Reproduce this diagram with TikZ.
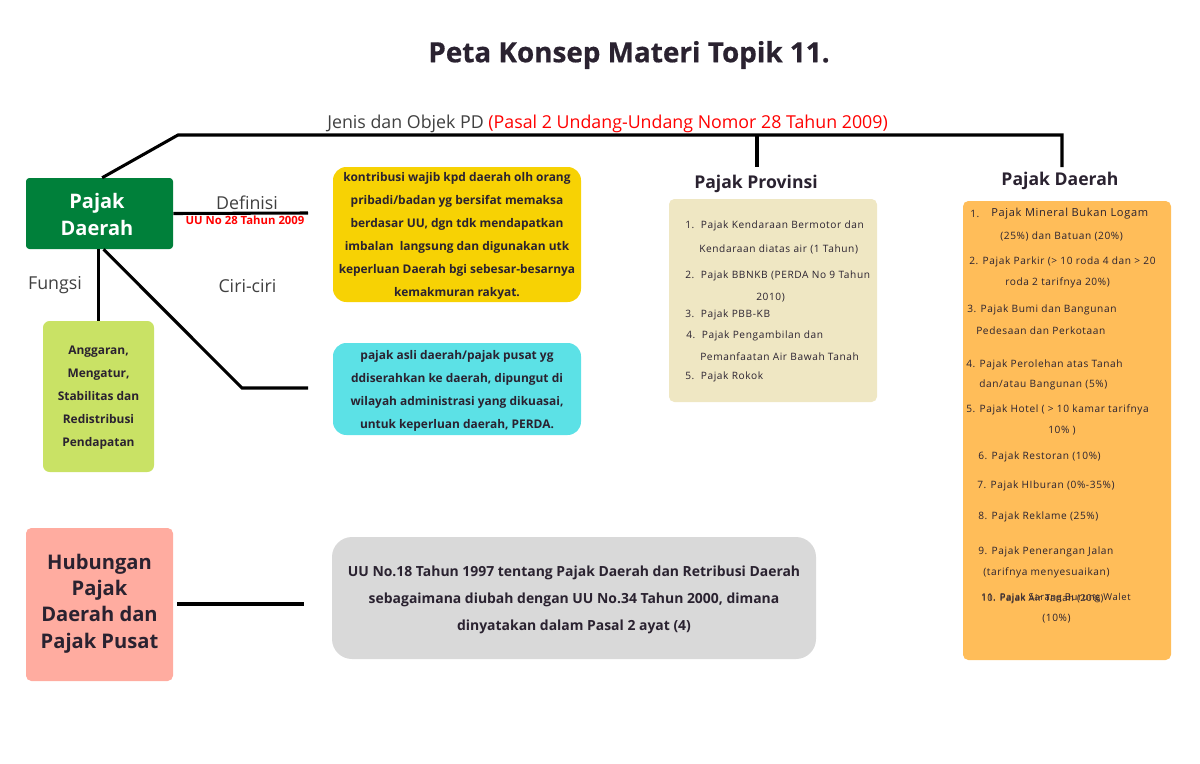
\documentclass[tikz,border=0pt]{standalone}
\usepackage{fontspec}
\setmainfont{Open Sans}
\newfontfamily\listfont[LetterSpace=6]{Open Sans}
\newfontfamily\titlefont[BoldFeatures={FakeBold=.6}]{Open Sans}
\usetikzlibrary{positioning}
\definecolor{pajakgreen}{HTML}{00803A}
\definecolor{kontribusiyellow}{HTML}{F7D204}
\definecolor{asalcyan}{HTML}{5CE1E6}
\definecolor{fungsilime}{HTML}{C9E265}
\definecolor{provcream}{HTML}{EFE7C3}
\definecolor{daerahorange}{HTML}{FFBD59}
\definecolor{hubsalmon}{HTML}{FFACA0}
\definecolor{uugrey}{HTML}{D9D9D9}
\definecolor{inkdark}{HTML}{2A2230}
\tikzset{
  conn/.style={line width=2.3pt},
  box/.style={rounded corners=4pt,inner sep=0pt},
  isi/.style={align=center,inner sep=0pt,text=inkdark,font=\bfseries\fontsize{8.95}{17.25}\selectfont},
  caption/.style={font=\fontsize{13.35}{16}\selectfont,text=black!75,inner sep=0pt},
  head/.style={font=\bfseries\fontsize{13.2}{15}\selectfont,text=inkdark,inner sep=0pt},
  listline/.style={font=\listfont\fontsize{7.6}{9}\selectfont,text=inkdark,inner sep=0pt,anchor=west},
  listkecil/.style={listline,font=\listfont\fontsize{7.1}{9}\selectfont}
}
\begin{document}
\begin{tikzpicture}[x=.75pt,y=.75pt]
    \useasboundingbox (0,0) rectangle (1200,-764);

    \node[inner sep=0pt,text=inkdark,font=\titlefont\bfseries\fontsize{20.9}{24}\selectfont] (judul) at (629,-55) {Peta Konsep Materi Topik 11.};

    \node[box,fill=pajakgreen,rounded corners=2.5pt,minimum width=110.25pt,minimum height=53.25pt] (pajak) at (99.5,-213.5) {};
    \node[isi,text=white,font=\bfseries\fontsize{15}{20.2}\selectfont] (pajaktext) at (97,-214.5) {Pajak\\Daerah};
    \node[box,fill=kontribusiyellow,rounded corners=10pt,minimum width=186pt,minimum height=101.25pt] (kontribusi) at (457,-234.5) {};
    \node[isi] (kontribusitext) at (457,-236)
      {kontribusi wajib kpd daerah olh orang\\pribadi/badan yg bersifat memaksa\\berdasar UU, dgn tdk mendapatkan\\imbalan\ \ langsung dan digunakan utk\\keperluan Daerah bgi sebesar-besarnya\\kemakmuran rakyat.};
    \node[box,fill=asalcyan,rounded corners=10pt,minimum width=186pt,minimum height=69pt] (asli) at (457,-389) {};
    \node[isi] (aslitext) at (457,-391)
      {pajak asli daerah/pajak pusat yg\\ddiserahkan ke daerah, dipungut di\\wilayah administrasi yang dikuasai,\\untuk keperluan daerah, PERDA.};
    \node[box,fill=fungsilime,rounded corners=5pt,minimum width=83.25pt,minimum height=113.25pt] (anggaran) at (98.5,-396.5) {};
    \node[isi] (anggarantext) at (98.5,-398)
      {Anggaran,\\Mengatur,\\Stabilitas dan\\Redistribusi\\Pendapatan};
    \node[box,fill=provcream,minimum width=156pt,minimum height=152.25pt] (provbox) at (773,-300.5) {};
    \node[box,fill=daerahorange,minimum width=156pt,minimum height=344.25pt] (daerahbox) at (1067,-430.5) {};
    \node[box,fill=hubsalmon,minimum width=110.25pt,minimum height=114.75pt] (hubungan) at (99.5,-604.5) {};
    \node[isi,font=\bfseries\fontsize{15.1}{19.8}\selectfont] (hubtext) at (99.5,-603.5)
      {Hubungan\\Pajak\\Daerah dan\\Pajak Pusat};
    \node[box,fill=uugrey,rounded corners=15pt,minimum width=363pt,minimum height=91.5pt] (uu) at (574,-598) {};
    \node[isi,font=\bfseries\fontsize{10.45}{20.25}\selectfont] (uutext) at (574,-600)
      {UU No.18 Tahun 1997 tentang Pajak Daerah dan Retribusi Daerah\\sebagaimana diubah dengan UU No.34 Tahun 2000, dimana\\dinyatakan dalam Pasal 2 ayat (4)};

    \node[caption,anchor=west] (jenis) at (327,-124) {Jenis dan Objek PD \textcolor{red}{(Pasal 2 Undang-Undang Nomor 28 Tahun 2009)}};
    \node[caption] (definisi) at (247,-203) {Definisi};
    \node[inner sep=0pt,text=red,font=\bfseries\fontsize{8.5}{10}\selectfont] (uu28) at (245,-220) {UU No 28 Tahun 2009};
    \node[caption] (fungsi) at (55,-285) {Fungsi};
    \node[caption] (ciri) at (247.5,-286) {Ciri-ciri};
    \node[head] (provinsi) at (756,-184) {Pajak Provinsi};
    \node[head] (daerah) at (1060,-181) {Pajak Daerah};

    \coordinate (tekuk) at (178,-135);
    \coordinate (ujung) at (1062,-135);
    \coordinate (cabang) at (757,-135);
    \coordinate (provtop) at (757,-167);
    \coordinate (daerahtop) at (1062,-167);
    \coordinate (defend) at (308,-213);
    \coordinate (tekukciri) at (242,-388);
    \coordinate (ciriend) at (308,-388);
    \coordinate (hubstart) at (177,-604);
    \coordinate (hubend) at (304,-604);

    \draw[conn] ([xshift=2pt]pajak.north) -- (tekuk) -- (ujung) -- (daerahtop);
    \draw[conn] (cabang) -- (provtop);
    \draw[conn] (pajak.east) -- (defend);
    \draw[conn] (anggaran.north) -- (anggaran.north |- pajak.south);
    \draw[conn] ([xshift=3pt]pajak.south) -- (tekukciri) -- (ciriend);
    \draw[conn] (hubstart) -- (hubend);

    \foreach \i/\px/\py/\txt in {
        1/685/226/{1.\ \ Pajak Kendaraan Bermotor dan},
        2/699/249/{Kendaraan diatas air (1 Tahun)},
        3/685/276/{2.\ \ Pajak BBNKB (PERDA No 9 Tahun},
        4/756/298/{2010)},
        5/685/315/{3.\ \ Pajak PBB-KB},
        6/686/336/{4.\ \ Pajak Pengambilan dan},
        7/700/357/{Pemanfaatan Air Bawah Tanah},
        8/685/377/{5.\ \ Pajak Rokok}}
      \node[listline] (prov\i) at (\px,-\py) {\txt};

    \foreach \i/\px/\py/\txt in {
        1/970/214/{1.},
        2/1000/236/{(25\%) dan Batuan (20\%)},
        3/969/262/{2. Pajak Parkir (> 10 roda 4 dan > 20},
        4/1005/283/{roda 2 tarifnya 20\%)},
        5/967/310/{3. Pajak Bumi dan Bangunan},
        6/976/331/{Pedesaan dan Perkotaan},
        7/966/365/{4. Pajak Perolehan atas Tanah},
        8/979/385/{dan/atau Bangunan (5\%)},
        9/966/410/{5. Pajak Hotel ( > 10 kamar tarifnya},
        10/1048/431/{10\% )},
        11/978/457/{6. Pajak Restoran (10\%)},
        12/977/486/{7. Pajak HIburan (0\%-35\%)},
        13/978/517/{8. Pajak Reklame (25\%)},
        14/978/552/{9. Pajak Penerangan Jalan},
        15/983/573/{(tarifnya menyesuaikan)},
        16/1042/619/{(10\%)}}
      \node[listline] (daerah\i) at (\px,-\py) {\txt};
    \node[listline,font=\listfont\fontsize{8.3}{9}\selectfont] (mineral) at (991,-214) {Pajak Mineral Bukan Logam};
    \node[listkecil] (airtanah) at (981,-599) {10. Pajak Air Tanah (20\%)};
    \node[listkecil] (walet) at (981,-598) {11. Pajak Sarang Burung Walet};
\end{tikzpicture}
\end{document}
